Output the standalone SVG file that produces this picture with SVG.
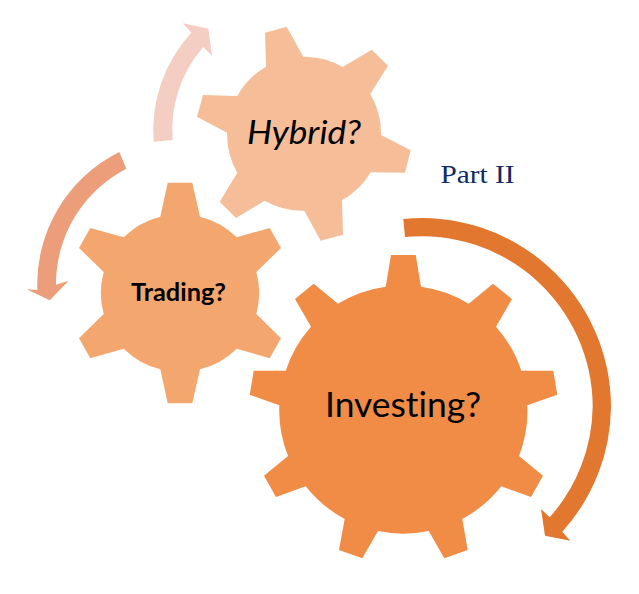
<svg xmlns="http://www.w3.org/2000/svg" width="639" height="594" viewBox="0 0 639 594">
<style>
.lbl{font-family:Lato,"Open Sans",sans-serif;fill:#000;font-variant-ligatures:none}
</style>
<rect width="639" height="594" fill="#fff"/>
<g id="connectors">
<path id="arrow-investing" fill="#E2782F" d="M403.3 219A189 189 0 0 1 611 407A188 188 0 0 1 562.3 531.7L570.3 540.7L545 535.7L541 509L549.7 517.3A170 170 0 0 0 592.7 407A171 171 0 0 0 405 237Z"/>
<path id="arrow-trading" fill="#EB9E79" d="M119.3 152A148 148 0 0 0 37.3 290L26.7 289.3L49.7 300.3L68.7 280.7L56 284.7A130 130 0 0 1 126.3 168.7Z"/>
<path id="arrow-hybrid" fill="#F5CEC3" d="M153.7 141.7A144 144 0 0 1 191.3 32.7L183 23.3L208.3 28.7L212 55.7L203.3 47A125 125 0 0 0 172.7 140Z"/>
</g>
<g id="node-hybrid">
<path fill="#F6BE98" d="M266 66.7L265 32.7L286.7 26.7L303.3 56.7A77 77 0 0 1 342.7 67L371.7 49.7L388 65.7L370.3 94A77 77 0 0 1 381 135L410.7 150.3L405 172.7L370.7 172.3A77 77 0 0 1 342 200.3L343 234.7L320.7 240.7L304.3 210.7A77 77 0 0 1 264.7 200.7L236 218L219.7 201.7L237.3 172.7A77 77 0 0 1 227 132.7L197 116.7L203 95L237.3 96A77 77 0 0 1 266 66.7Z"/>
<text class="lbl" x="247" y="144" font-size="32" font-style="italic" textLength="114" lengthAdjust="spacingAndGlyphs">Hybrid?</text>
</g>
<g id="node-trading">
<path fill="#F3A76F" d="M160.3 216.7L167.7 182.7L192.3 182.7L200 216.7A79 79 0 0 1 236.7 237.3L269.7 228L281 248L256.3 272A79 79 0 0 1 256.3 314L281 338.3L269.7 358.3L236.7 348.7A79 79 0 0 1 200 369.3L192.3 403.3L167.7 403.3L160.3 369.3A79 79 0 0 1 123.7 348.7L90.3 358.3L79 338.3L103.7 314A79 79 0 0 1 103.7 272L79 248L90.3 228L123.7 237.3A79 79 0 0 1 160.3 216.7Z"/>
<text class="lbl" x="131" y="300.7" font-size="24" font-weight="700" textLength="95" lengthAdjust="spacingAndGlyphs">Trading?</text>
</g>
<g id="node-investing">
<path fill="#F08C46" d="M385.7 286.7L391 255L415.7 255L421 286.7A124 124 0 0 1 468.7 303.7L493 283.7L512 299L496 326.7A124 124 0 0 1 521.3 370.7L553.3 370.7L557.3 394.7L527.3 405.3A124 124 0 0 1 519 456L543 475.7L531 497L501.3 486.3A124 124 0 0 1 462.3 519L467.7 550L444.3 558.3L428.7 531A124 124 0 0 1 378 531L362.3 558.3L339 550L344.7 519A124 124 0 0 1 305.7 486.3L276 497L264 475.7L288 456A124 124 0 0 1 279.3 405.3L249.7 394.7L253.7 370.7L285.7 370.7A124 124 0 0 1 311 326.7L295 299L313.7 283.7L338 303.7A124 124 0 0 1 385.7 286.7Z"/>
<text class="lbl" x="325" y="416.7" font-size="35" textLength="156" lengthAdjust="spacingAndGlyphs">Investing?</text>
</g>
<text id="part-label" x="440.5" y="183.3" font-family="'Liberation Serif',serif" font-size="25" fill="#0F2A66" textLength="74" lengthAdjust="spacingAndGlyphs">Part II</text>
</svg>
